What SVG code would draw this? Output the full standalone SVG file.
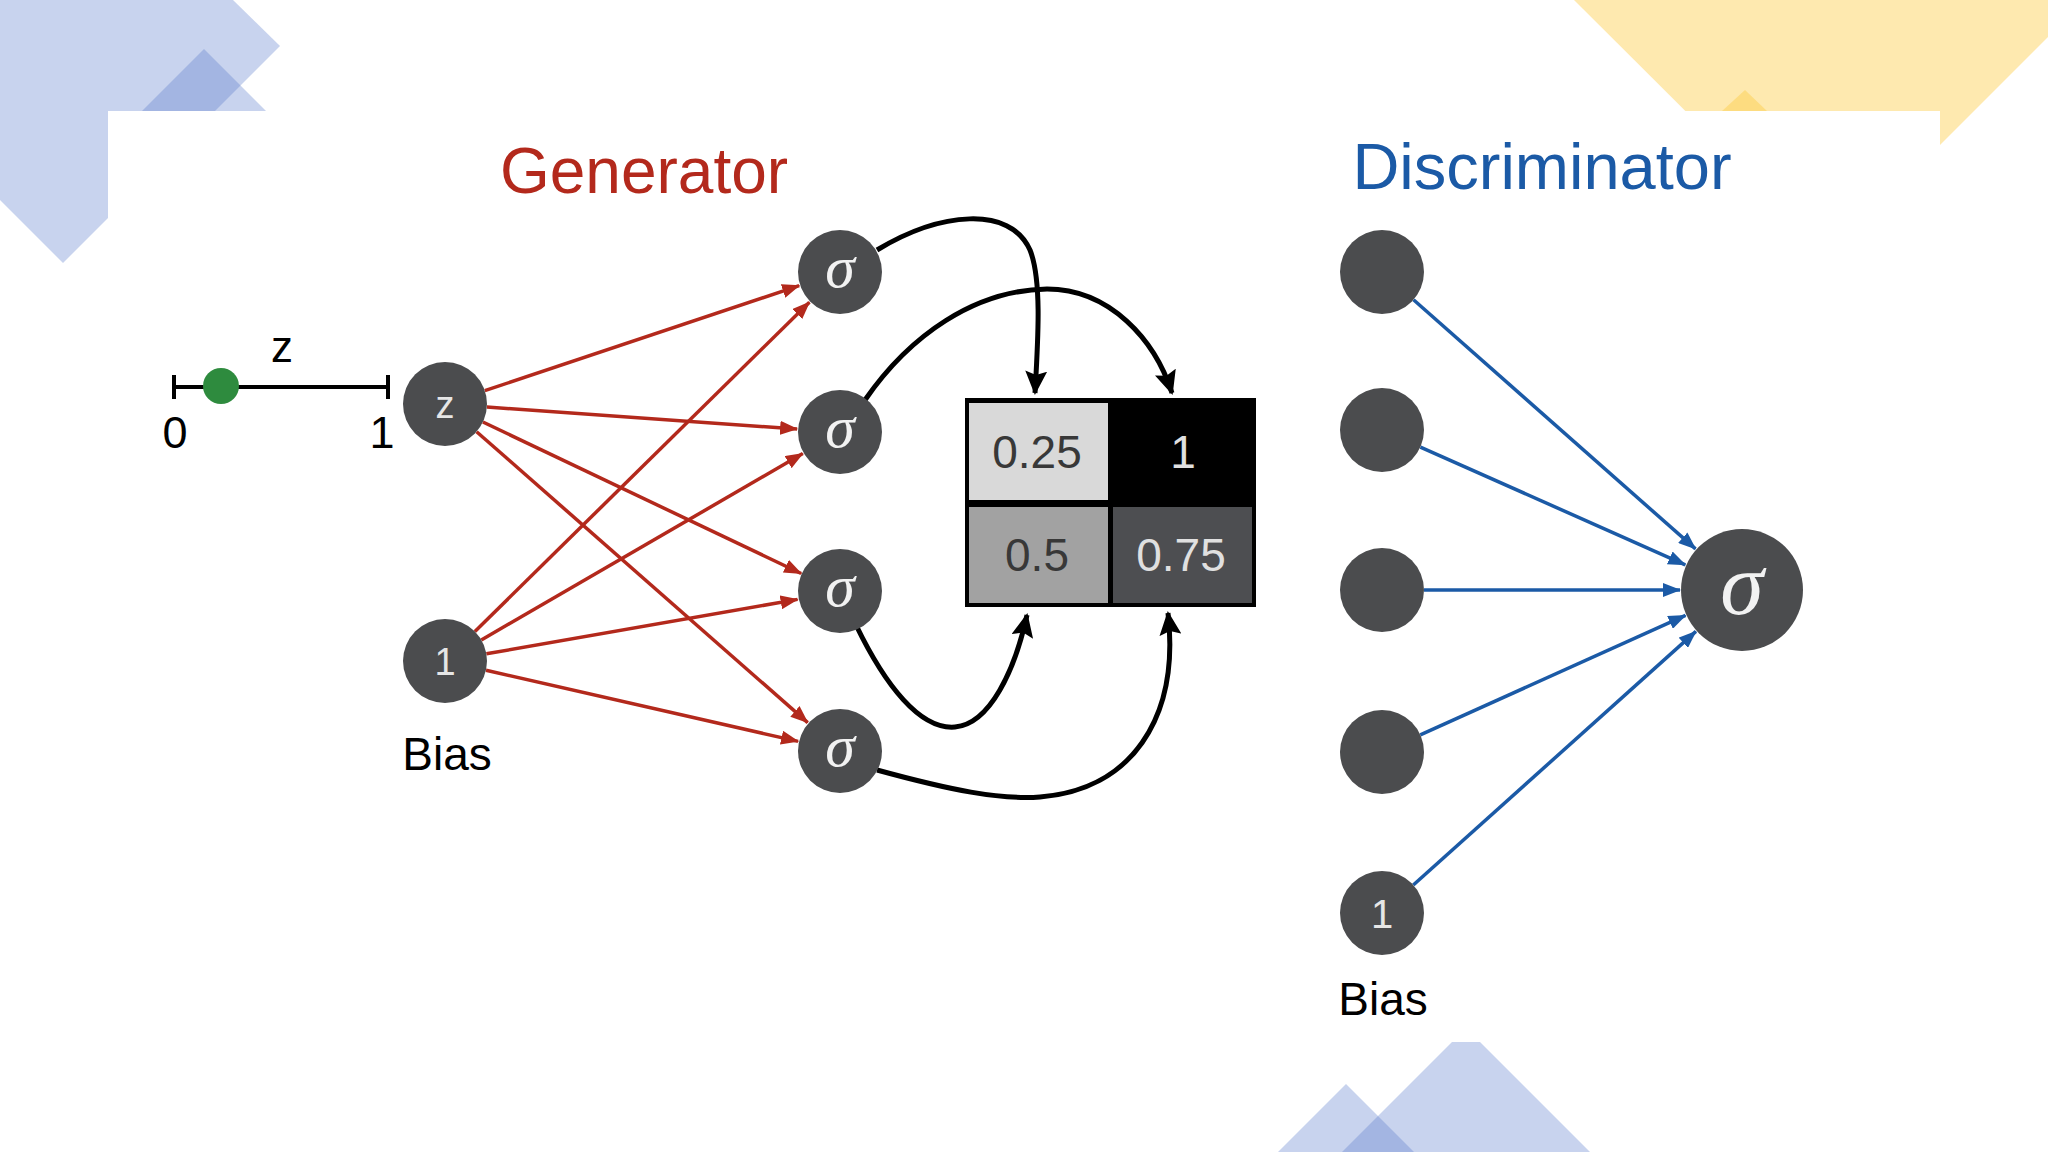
<svg xmlns="http://www.w3.org/2000/svg" width="2048" height="1152" viewBox="0 0 2048 1152">
<defs>
<style>
.bl{fill:rgb(88,122,203);fill-opacity:0.33}
.ye{fill:rgb(252,201,60);fill-opacity:0.41}
.node{fill:#4b4c4e}
.red{stroke:#b3291c;stroke-width:3.5;fill:none}
.blue{stroke:#1b5aa6;stroke-width:3.5;fill:none}
.blk{stroke:#000;stroke-width:5;fill:none}
.t{font-family:"Liberation Sans",Arial,sans-serif;text-anchor:middle}
.sig{font-family:"Liberation Serif","Times New Roman",serif;font-style:italic;fill:#f2f2f2;text-anchor:middle}
</style>
<marker id="ar" markerUnits="userSpaceOnUse" markerWidth="18" markerHeight="14" refX="17" refY="7" orient="auto"><path d="M0,0 L18,7 L0,14 Z" fill="#b3291c"/></marker>
<marker id="ab" markerUnits="userSpaceOnUse" markerWidth="18" markerHeight="14" refX="17" refY="7" orient="auto"><path d="M0,0 L18,7 L0,14 Z" fill="#1b5aa6"/></marker>
<marker id="ak" markerUnits="userSpaceOnUse" markerWidth="24" markerHeight="22" refX="22" refY="11" orient="auto"><path d="M0,0 L24,11 L0,22 L4,11 Z" fill="#000"/></marker>
</defs>
<rect width="2048" height="1152" fill="#fff"/>
<g id="background">
<polygon class="bl" points="0,0 233,0 280,46 63,263 0,200"/>
<polygon class="bl" points="204,49 266,111 142,111"/>
<polygon class="ye" points="1574,0 2048,0 2048,37 1830,255"/>
<polygon class="ye" points="1745,90 1767,111 1722,111"/>
<rect x="108" y="111" width="1832" height="1041" fill="#fff"/>
<polygon class="bl" points="1346,1084 1414,1152 1278,1152"/>
<polygon class="bl" points="1452,1042 1480,1042 1590,1152 1342,1152"/>
</g>
<g id="titles">
<text class="t" x="644" y="193" font-size="64" fill="#b3291c">Generator</text>
<text class="t" x="1542" y="189" font-size="65" fill="#1b5aa6">Discriminator</text>
</g>
<g id="z-scale">
<line x1="174" y1="387" x2="388" y2="387" stroke="#000" stroke-width="4"/>
<line x1="174" y1="375" x2="174" y2="399" stroke="#000" stroke-width="4"/>
<line x1="388" y1="375" x2="388" y2="399" stroke="#000" stroke-width="4"/>
<circle cx="221" cy="386" r="18" fill="#2e8b3e"/>
<text class="t" x="282" y="362" font-size="44">z</text>
<text class="t" x="175" y="448" font-size="45">0</text>
<text class="t" x="382" y="448" font-size="45">1</text>
</g>
<g id="connectors">
<line class="red" x1="484.8" y1="390.7" x2="799.2" y2="285.6" marker-end="url(#ar)"/>
<line class="red" x1="486.9" y1="407.0" x2="797.1" y2="429.0" marker-end="url(#ar)"/>
<line class="red" x1="482.9" y1="422.0" x2="801.2" y2="573.5" marker-end="url(#ar)"/>
<line class="red" x1="476.6" y1="431.7" x2="807.7" y2="722.6" marker-end="url(#ar)"/>
<line class="red" x1="474.9" y1="631.5" x2="809.4" y2="302.2" marker-end="url(#ar)"/>
<line class="red" x1="481.3" y1="639.9" x2="802.8" y2="453.6" marker-end="url(#ar)"/>
<line class="red" x1="486.4" y1="653.8" x2="797.6" y2="599.4" marker-end="url(#ar)"/>
<line class="red" x1="486.0" y1="670.3" x2="798.1" y2="741.4" marker-end="url(#ar)"/>
<path class="blk" d="M877,250 C940,212 1010,205 1030,250 C1042,280 1038,340 1035,393" marker-end="url(#ak)"/>
<path class="blk" d="M865,400 C910,335 975,290 1047,289 C1110,289 1155,340 1172,393" marker-end="url(#ak)"/>
<path class="blk" d="M856,625 C885,685 920,730 955,727 C990,724 1015,670 1027,615" marker-end="url(#ak)"/>
<path class="blk" d="M877,770 C950,790 1000,800 1040,797 C1130,790 1180,720 1168,613" marker-end="url(#ak)"/>
<line class="blue" x1="1413.5" y1="299.8" x2="1695.5" y2="548.9" marker-end="url(#ab)"/>
<line class="blue" x1="1420.4" y1="447.1" x2="1685.3" y2="564.8" marker-end="url(#ab)"/>
<line class="blue" x1="1424" y1="590" x2="1680" y2="590" marker-end="url(#ab)"/>
<line class="blue" x1="1420.3" y1="734.8" x2="1685.5" y2="615.4" marker-end="url(#ab)"/>
<line class="blue" x1="1413.3" y1="885.0" x2="1695.9" y2="631.4" marker-end="url(#ab)"/>
</g>
<g id="gen-z"><circle class="node" cx="445" cy="404" r="42"/><text class="t" x="445" y="418" font-size="38" fill="#e6e6e6">z</text></g>
<g id="gen-bias"><circle class="node" cx="445" cy="661" r="42"/><text class="t" x="445" y="675" font-size="38" fill="#e6e6e6">1</text><text class="t" x="447" y="770" font-size="46">Bias</text></g>
<g id="gen-s1"><circle class="node" cx="840" cy="272" r="42"/><text class="sig" x="840" y="287" font-size="60">σ</text></g>
<g id="gen-s2"><circle class="node" cx="840" cy="432" r="42"/><text class="sig" x="840" y="447" font-size="60">σ</text></g>
<g id="gen-s3"><circle class="node" cx="840" cy="591" r="42"/><text class="sig" x="840" y="606" font-size="60">σ</text></g>
<g id="gen-s4"><circle class="node" cx="840" cy="751" r="42"/><text class="sig" x="840" y="766" font-size="60">σ</text></g>
<g id="image-grid">
<rect x="965" y="398" width="291" height="209" fill="#000"/>
<rect x="969" y="403" width="139" height="97" fill="#d9d9d9"/>
<rect x="969" y="507" width="139" height="96" fill="#a2a2a2"/>
<rect x="1113" y="507" width="139" height="96" fill="#4d4e51"/>
<text class="t" x="1037" y="468" font-size="46" fill="#383838">0.25</text>
<text class="t" x="1183" y="468" font-size="46" fill="#e0e0e0">1</text>
<text class="t" x="1037" y="571" font-size="46" fill="#383838">0.5</text>
<text class="t" x="1181" y="571" font-size="46" fill="#e0e0e0">0.75</text>
</g>
<g id="dis-1"><circle class="node" cx="1382" cy="272" r="42"/></g>
<g id="dis-2"><circle class="node" cx="1382" cy="430" r="42"/></g>
<g id="dis-3"><circle class="node" cx="1382" cy="590" r="42"/></g>
<g id="dis-4"><circle class="node" cx="1382" cy="752" r="42"/></g>
<g id="dis-bias"><circle class="node" cx="1382" cy="913" r="42"/><text class="t" x="1382" y="928" font-size="40" fill="#e6e6e6">1</text><text class="t" x="1383" y="1015" font-size="46">Bias</text></g>
<g id="dis-out"><circle class="node" cx="1742" cy="590" r="61"/><text class="sig" x="1742" y="614" font-size="88">σ</text></g>
</svg>
